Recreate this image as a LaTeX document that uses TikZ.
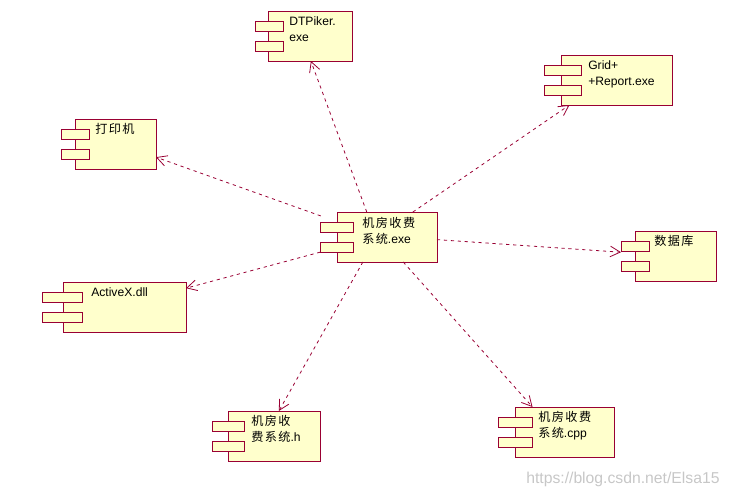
\documentclass[tikz,border=0pt]{standalone}
\usepackage{fontspec}
\setmainfont{Liberation Sans}
\newfontfamily\cjk[LetterSpace=12]{Noto Sans CJK SC}
\usetikzlibrary{arrows.meta}
\definecolor{umlline}{HTML}{990033}
\definecolor{umlfill}{HTML}{FFFFCC}
\tikzset{
    compbody/.style={draw=umlline, fill=umlfill, line width=0.75pt, inner sep=0pt, outer sep=0pt},
    comptab/.style={compbody, minimum height=7.5pt},
    complabel/.style={anchor=north west, align=left, inner sep=0pt, font=\fontsize{9.1}{12}\selectfont, text=black},
    depend/.style={draw=umlline, line width=0.6pt, dash pattern=on 2.4pt off 2.8pt, -{Straight Barb[length=7.5pt,width=8pt,line width=0.6pt]}}
}
% name, body left, top, right, tab left, tab right, label x, label y, label
\newcommand{\umlcomp}[9]{
    \node [compbody, minimum width={(#4-#2)*0.75pt}, minimum height=37.5pt] (#1) at ({(#2+#4)/2}, #3+25) {};
    \node [comptab, minimum width={(#6-#5)*0.75pt}] (#1-taba) at ({(#5+#6)/2}, #3+15) {};
    \node [comptab, minimum width={(#6-#5)*0.75pt}] (#1-tabb) at ({(#5+#6)/2}, #3+35) {};
    \node [complabel] (#1-label) at (#7, #8) {#9};
}
\begin{document}
\begin{tikzpicture}[x=0.75pt, y=-0.75pt]
    \useasboundingbox (0,0) rectangle (729,497);

    % Components
    \umlcomp{main}{337}{212}{437}{320}{353}{362}{217}{{\cjk 机房收费}\\{\cjk 系统}.exe}
    \umlcomp{dtpiker}{268}{11}{352}{255}{283}{289}{16}{DTPiker.\\exe}
    \umlcomp{grid}{561}{55}{672}{544}{581}{588}{60}{Grid+\\+Report.exe}
    \umlcomp{printer}{75}{119}{156}{61}{89}{95}{123}{{\cjk 打印机}}
    \umlcomp{database}{635}{231}{716}{621}{649}{654}{235}{{\cjk 数据库}}
    \umlcomp{activex}{63}{282}{186}{42}{82}{91}{287}{ActiveX.dll}
    \umlcomp{header}{228}{411}{320}{212}{244}{251}{415}{{\cjk 机房收}\\{\cjk 费系统}.h}
    \umlcomp{source}{515}{407}{614}{498}{532}{538}{411}{{\cjk 机房收费}\\{\cjk 系统}.cpp}

    % Dependencies
    \draw [depend] (main.129) -- (dtpiker.-88);
    \draw [depend] (main.44) -- (grid.208);
    \draw [depend, shorten <=13pt] (main.163) -- (printer.-18);
    \draw [depend, shorten >=10.5pt] (main.-3.4) -- (database.176.6);
    \draw [depend, shorten <=13pt] (main.192) -- (activex.17);
    \draw [depend] (main.226) -- (header.79);
    \draw [depend] (main.-57.4) -- (source.142);

    % Watermark
    \node [anchor=west, inner sep=0pt, text=black!22, font=\fontsize{11.8}{14}\selectfont] (watermark) at (526, 479) {https://blog.csdn.net/Elsa15};
\end{tikzpicture}
\end{document}
